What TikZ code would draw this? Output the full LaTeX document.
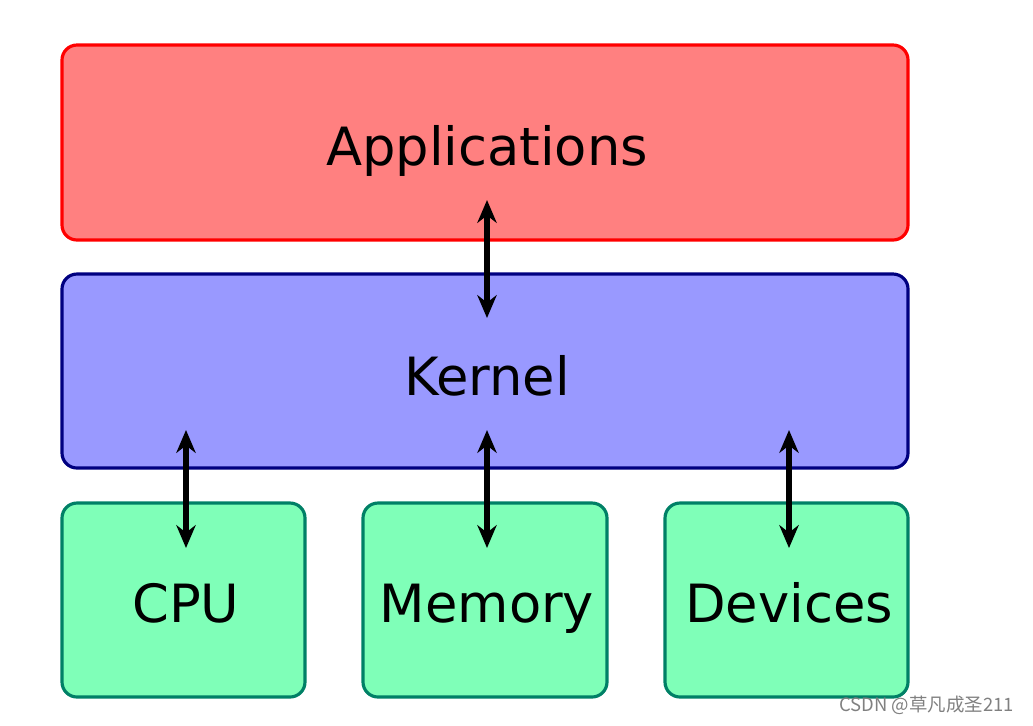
\documentclass[tikz,border=0pt]{standalone}
\usepackage{fontspec}
\setmainfont{DejaVu Sans}
\newfontfamily\cjk{Noto Sans CJK SC}
\usetikzlibrary{arrows.meta}
\definecolor{appf}{HTML}{FF8080}
\definecolor{kerf}{HTML}{9999FF}
\definecolor{kerd}{HTML}{000080}
\definecolor{hwf}{HTML}{7FFFB8}
\definecolor{hwd}{HTML}{008066}
\begin{document}
\begin{tikzpicture}[x=0.02cm,y=-0.02cm,
 box/.style={rounded corners=0.3cm,line width=1.8pt},
 lbl/.style={font=\fontsize{30}{36}\selectfont,anchor=base},
 arr/.style={{Stealth[length=13pt,width=11pt]}-{Stealth[length=13pt,width=11pt]},line width=3.2pt}]
\useasboundingbox (0,0) rectangle (1033,725);
\draw[box,fill=appf,draw=red] (62,45) rectangle (908,240);
\draw[box,fill=kerf,draw=kerd] (62,274) rectangle (908,468);
\draw[box,fill=hwf,draw=hwd] (62,503) rectangle (305,697);
\draw[box,fill=hwf,draw=hwd] (363,503) rectangle (607,697);
\draw[box,fill=hwf,draw=hwd] (665,503) rectangle (908,697);
\node[lbl] (app) at (487,165) {Applications};
\node[lbl] (ker) at (487,395) {Kernel};
\node[lbl] (cpu) at (186,622) {CPU};
\node[lbl] (mem) at (487,622) {Memory};
\node[lbl] (dev) at (789,622) {Devices};
\coordinate (a1) at (487,200); \coordinate (a2) at (487,318);
\coordinate (c1) at (186,430); \coordinate (c2) at (186,548);
\coordinate (m1) at (487,430); \coordinate (m2) at (487,548);
\coordinate (d1) at (789,430); \coordinate (d2) at (789,548);
\draw[arr] (a1) -- (a2);
\draw[arr] (c1) -- (c2);
\draw[arr] (m1) -- (m2);
\draw[arr] (d1) -- (d2);
\node[text=gray,font=\cjk\fontsize{10.5}{12}\selectfont,anchor=east] (wm) at (1020,705) {CSDN @草凡成圣211};
\end{tikzpicture}
\end{document}
